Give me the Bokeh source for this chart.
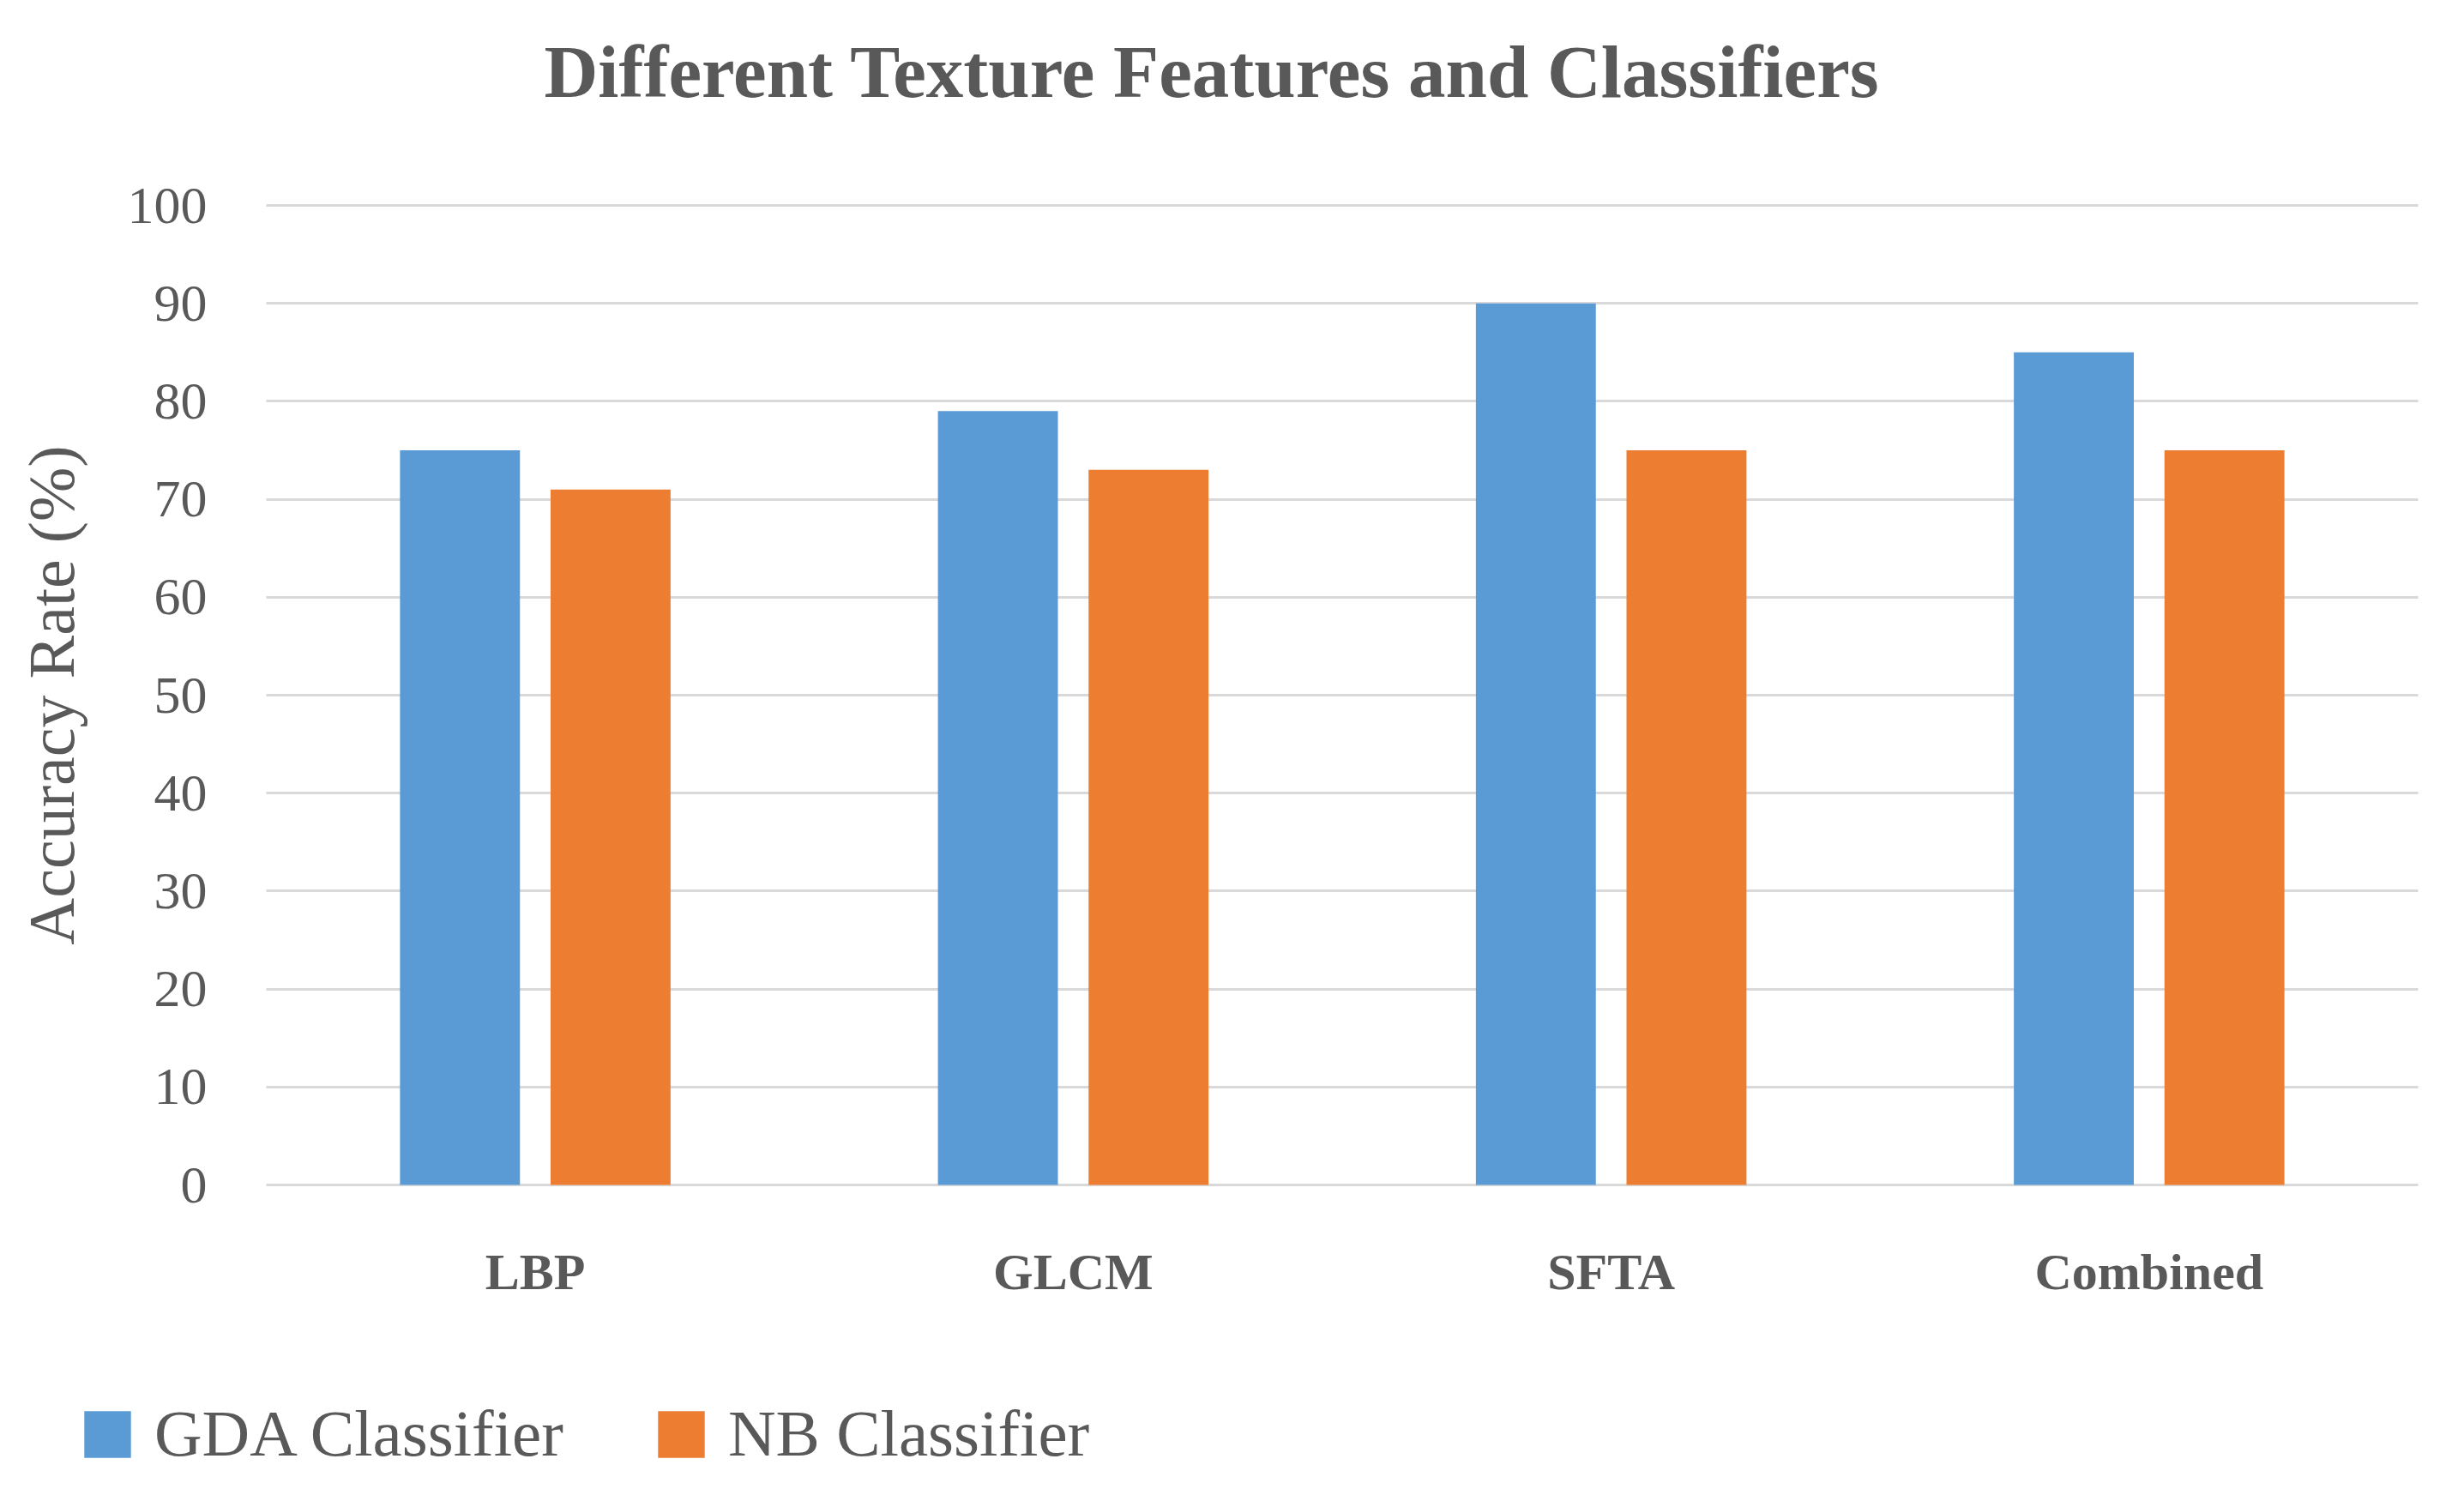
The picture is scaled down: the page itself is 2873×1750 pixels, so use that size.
from bokeh.plotting import figure
from bokeh.models import (ColumnDataSource, Range1d, FixedTicker, Legend, LegendItem, Label)
from bokeh.transform import dodge
from bokeh.embed import file_html
from bokeh.resources import INLINE

# ---- data ----
categories = ["LBP", "GLCM", "SFTA", "Combined"]
gda_values = [75, 79, 90, 85]
nb_values = [71, 73, 75, 75]
series_names = ["GDA Classifier", "NB Classifier"]
y_ticks = [0, 10, 20, 30, 40, 50, 60, 70, 80, 90, 100]
title_text = "Different Texture Features and Classifiers"
y_label = "Accuracy Rate (%)"

BLUE = "#5B9BD5"
ORANGE = "#ED7D31"
TEXT = "#595959"
GRID = "#D9D9D9"

# ---- layout constants (pixels) ----
W, H = 2857, 1734
PLOT_LEFT = 310          # x=0 (start of first category slot)
SLOT = 627.25            # width of one category slot
Y0_PX, Y100_PX = 1381, 239
PX_PER_UNIT = (Y0_PX - Y100_PX) / 100.0

x_start = -PLOT_LEFT / SLOT
x_end = (W - PLOT_LEFT) / SLOT
y_end = 100 + Y100_PX / PX_PER_UNIT
y_start = -(H - Y0_PX) / PX_PER_UNIT

centers = [i + 0.5 for i in range(len(categories))]
source = ColumnDataSource(dict(xc=centers, cat=categories, gda=gda_values, nb=nb_values))

p = figure(
    width=W, height=H,
    x_range=Range1d(x_start, x_end),
    y_range=Range1d(y_start, y_end),
    output_backend="svg", toolbar_location=None,
    min_border=0, min_border_left=0, min_border_right=0,
    min_border_top=0, min_border_bottom=0,
)
p.outline_line_color = None
p.background_fill_color = "white"
p.border_fill_color = "white"

r1 = p.vbar(x=dodge("xc", -0.14), top="gda", width=0.223,
            source=source, fill_color=BLUE, line_color=None)
r2 = p.vbar(x=dodge("xc", 0.14), top="nb", width=0.223,
            source=source, fill_color=ORANGE, line_color=None)

# grid: horizontal lines only across the category area
p.xgrid.visible = False
yg = p.ygrid[0]
yg.ticker = FixedTicker(ticks=y_ticks)
yg.grid_line_color = GRID
yg.grid_line_width = 3
if "cross_bounds" in yg.properties():
    yg.cross_bounds = (0, len(categories))
    yg.level = "underlay"
else:
    yg.visible = False
    p.segment(x0=0, x1=len(categories), y0=y_ticks, y1=y_ticks,
              line_color=GRID, line_width=3, level="underlay")

# y axis, fixed at the left edge of the category area
ya = p.yaxis[0]
ya.fixed_location = 0
ya.bounds = (0, 100)
ya.ticker = FixedTicker(ticks=y_ticks)
ya.axis_line_color = None
ya.major_tick_line_color = None
ya.minor_tick_line_color = None
ya.major_tick_in = 0
ya.major_tick_out = 0
ya.major_label_standoff = 69
ya.major_label_text_font = "Liberation Serif"
ya.major_label_text_font_size = "62px"
ya.major_label_text_color = TEXT
ya.axis_label = y_label
ya.axis_label_text_font = "Liberation Serif"
ya.axis_label_text_font_size = "76px"
ya.axis_label_text_font_style = "normal"
ya.axis_label_text_color = TEXT
ya.axis_label_standoff = 44

# x axis, fixed at y = 0, category names at slot centres
xa = p.xaxis[0]
xa.fixed_location = 0
xa.bounds = (0, len(categories))
xa.ticker = FixedTicker(ticks=centers)
xa.major_label_overrides = {c: name for c, name in zip(centers, categories)}
xa.axis_line_color = None
xa.major_tick_line_color = None
xa.minor_tick_line_color = None
xa.major_tick_in = 0
xa.major_tick_out = 0
xa.major_label_standoff = 68
xa.major_label_text_font = "Liberation Serif"
xa.major_label_text_font_size = "60px"
xa.major_label_text_font_style = "bold"
xa.major_label_text_color = TEXT

# title
title = Label(
    x=(x_start + x_end) / 2 - 0.025, y=100 + (Y100_PX - 83) / PX_PER_UNIT,
    text=title_text, text_align="center", text_baseline="middle",
    text_font="Liberation Serif", text_font_size="87px", text_font_style="bold",
    text_color=TEXT,
)
p.add_layout(title)

# legend, bottom left
legend = Legend(
    items=[LegendItem(label=series_names[0], renderers=[r1]),
           LegendItem(label=series_names[1], renderers=[r2])],
    orientation="horizontal",
    location=(91, 18),
    glyph_width=68, glyph_height=68, label_height=68,
    label_standoff=21, spacing=103,
    label_text_font="Liberation Serif", label_text_font_size="77px",
    label_text_color=TEXT,
    padding=0, margin=0,
    border_line_color=None, background_fill_alpha=0,
)
p.add_layout(legend)

open("out.html", "w").write(file_html(p, INLINE))
